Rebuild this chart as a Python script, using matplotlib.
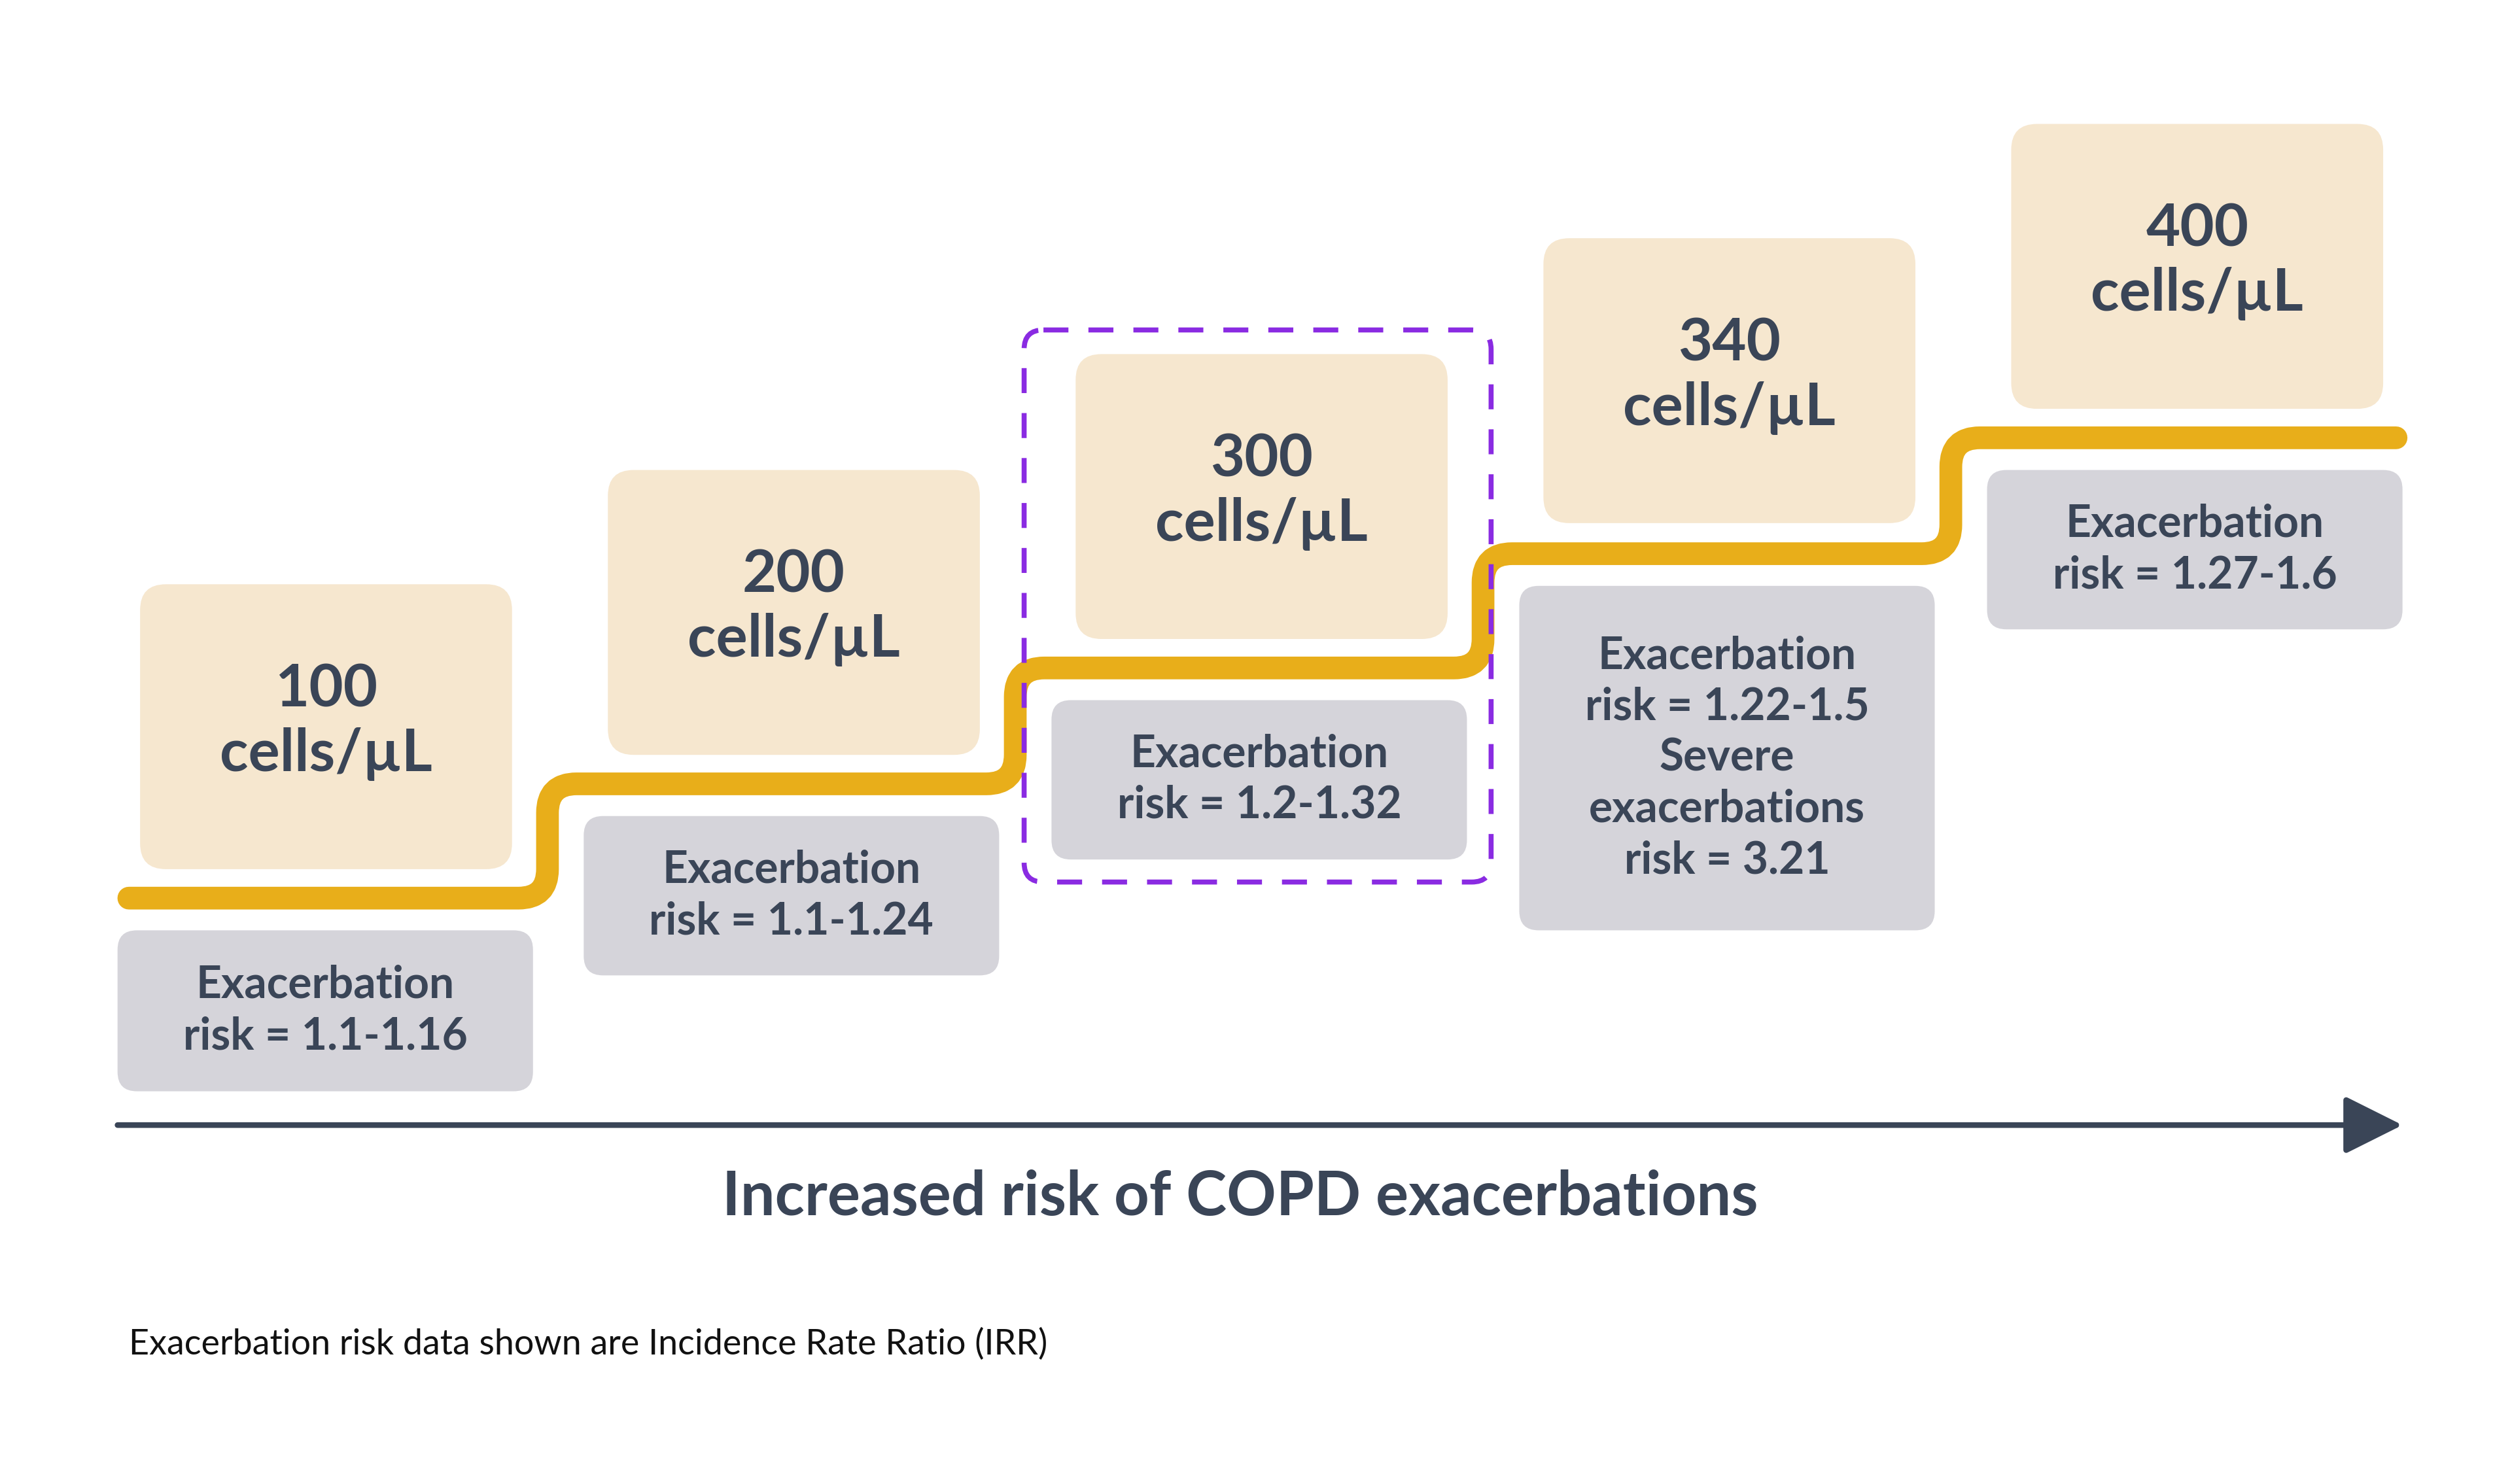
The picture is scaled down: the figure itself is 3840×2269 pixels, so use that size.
import matplotlib

matplotlib.use("Agg")
import matplotlib.pyplot as plt
from matplotlib.patches import FancyBboxPatch, FancyArrowPatch, PathPatch
from matplotlib.path import Path

# data
THRESHOLDS = ["100", "200", "300", "340", "400"]
RISK_TEXT = [
    "Exacerbation\nrisk = 1.1-1.16",
    "Exacerbation\nrisk = 1.1-1.24",
    "Exacerbation\nrisk = 1.2-1.32",
    "Exacerbation\nrisk = 1.22-1.5\nSevere\nexacerbations\nrisk = 3.21",
    "Exacerbation\nrisk = 1.27-1.6",
]
AXIS_LABEL = "Increased risk of COPD exacerbations"
FOOTNOTE = "Exacerbation risk data shown are Incidence Rate Ratio (IRR)"
HIGHLIGHT = 2

INK = "#3A4557"
CREAM = "#F6E7CF"
GRAY = "#D5D4DA"
GOLD = "#E8AE1A"
PURPLE = "#8A2BE2"

plt.rcParams["font.family"] = ["Lato", "DejaVu Sans"]

W, H = 1560, 922
fig = plt.figure(figsize=(15.36, 9.076), dpi=250)
ax = fig.add_axes([0, 0, 1, 1])
ax.set_xlim(0, W)
ax.set_ylim(H, 0)
ax.axis("off")

# layout (display pixel space)
step_x = 290.5
cream_x0, cream_w, cream_h = 87, 231, 177
cream_y0 = [363, 292, 220, 148, 77]
gray_x0, gray_w = 73, 258
gray_y0 = [578, 507, 435, 364, 292]
gray_h = [100, 99, 99, 214, 99]
levels = [558, 487, 415, 344, 272]


def rbox(x, y, w, h, color, r=16, **kw):
    ax.add_patch(FancyBboxPatch((x + r, y + r), w - 2 * r, h - 2 * r,
                                boxstyle=f"round,pad={r}", fc=color, ec="none", **kw))


for i, t in enumerate(THRESHOLDS):
    x = cream_x0 + i * step_x
    rbox(x, cream_y0[i], cream_w, cream_h, CREAM, zorder=2)
    ax.text(x + cream_w / 2, cream_y0[i] + cream_h / 2 - 3, f"{t}\ncells/µL",
            ha="center", va="center", fontsize=26, fontweight="bold", color=INK,
            linespacing=1.25, zorder=3)
    gx = gray_x0 + i * step_x - (1 if i else 0)
    rbox(gx, gray_y0[i], gray_w, gray_h[i], GRAY, r=12, zorder=2)
    ax.text(gx + gray_w / 2, gray_y0[i] + gray_h[i] / 2, RISK_TEXT[i],
            ha="center", va="center", fontsize=19.5, fontweight="bold", color=INK,
            linespacing=1.3, zorder=3)

# gold step line with rounded corners
r = 18
verts, codes = [(80, levels[0])], [Path.MOVETO]
for i in range(1, len(levels)):
    xs = 340 + (i - 1) * step_x
    y0, y1 = levels[i - 1], levels[i]
    verts += [(xs - r, y0), (xs, y0), (xs, y0 - r),
              (xs, y1 + r), (xs, y1), (xs + r, y1)]
    codes += [Path.LINETO, Path.CURVE3, Path.CURVE3,
              Path.LINETO, Path.CURVE3, Path.CURVE3]
verts.append((1488, levels[-1]))
codes.append(Path.LINETO)
ax.add_patch(PathPatch(Path(verts, codes), fc="none", ec=GOLD, lw=10,
                       capstyle="round", joinstyle="round", zorder=4))

# highlight dashed box
hx = cream_x0 + HIGHLIGHT * step_x - 32
ax.add_patch(FancyBboxPatch((hx + 12, 205 + 12), 290 - 24, 343 - 24,
                            boxstyle="round,pad=12", fc="none", ec=PURPLE,
                            lw=2.2, ls=(0, (5, 4)), zorder=5))

# axis arrow
ax.add_patch(FancyArrowPatch((73, 699), (1492, 699), arrowstyle="-|>,head_length=22,head_width=11",
                             color=INK, lw=2.5, mutation_scale=1, shrinkA=0, shrinkB=0))
ax.text(770, 744, AXIS_LABEL, ha="center", va="center", fontsize=27,
        fontweight="bold", color=INK)
ax.text(80, 835, FOOTNOTE, ha="left", va="center", fontsize=15.5, color="#111111")

fig.savefig("out.png", dpi=250, facecolor="white")
